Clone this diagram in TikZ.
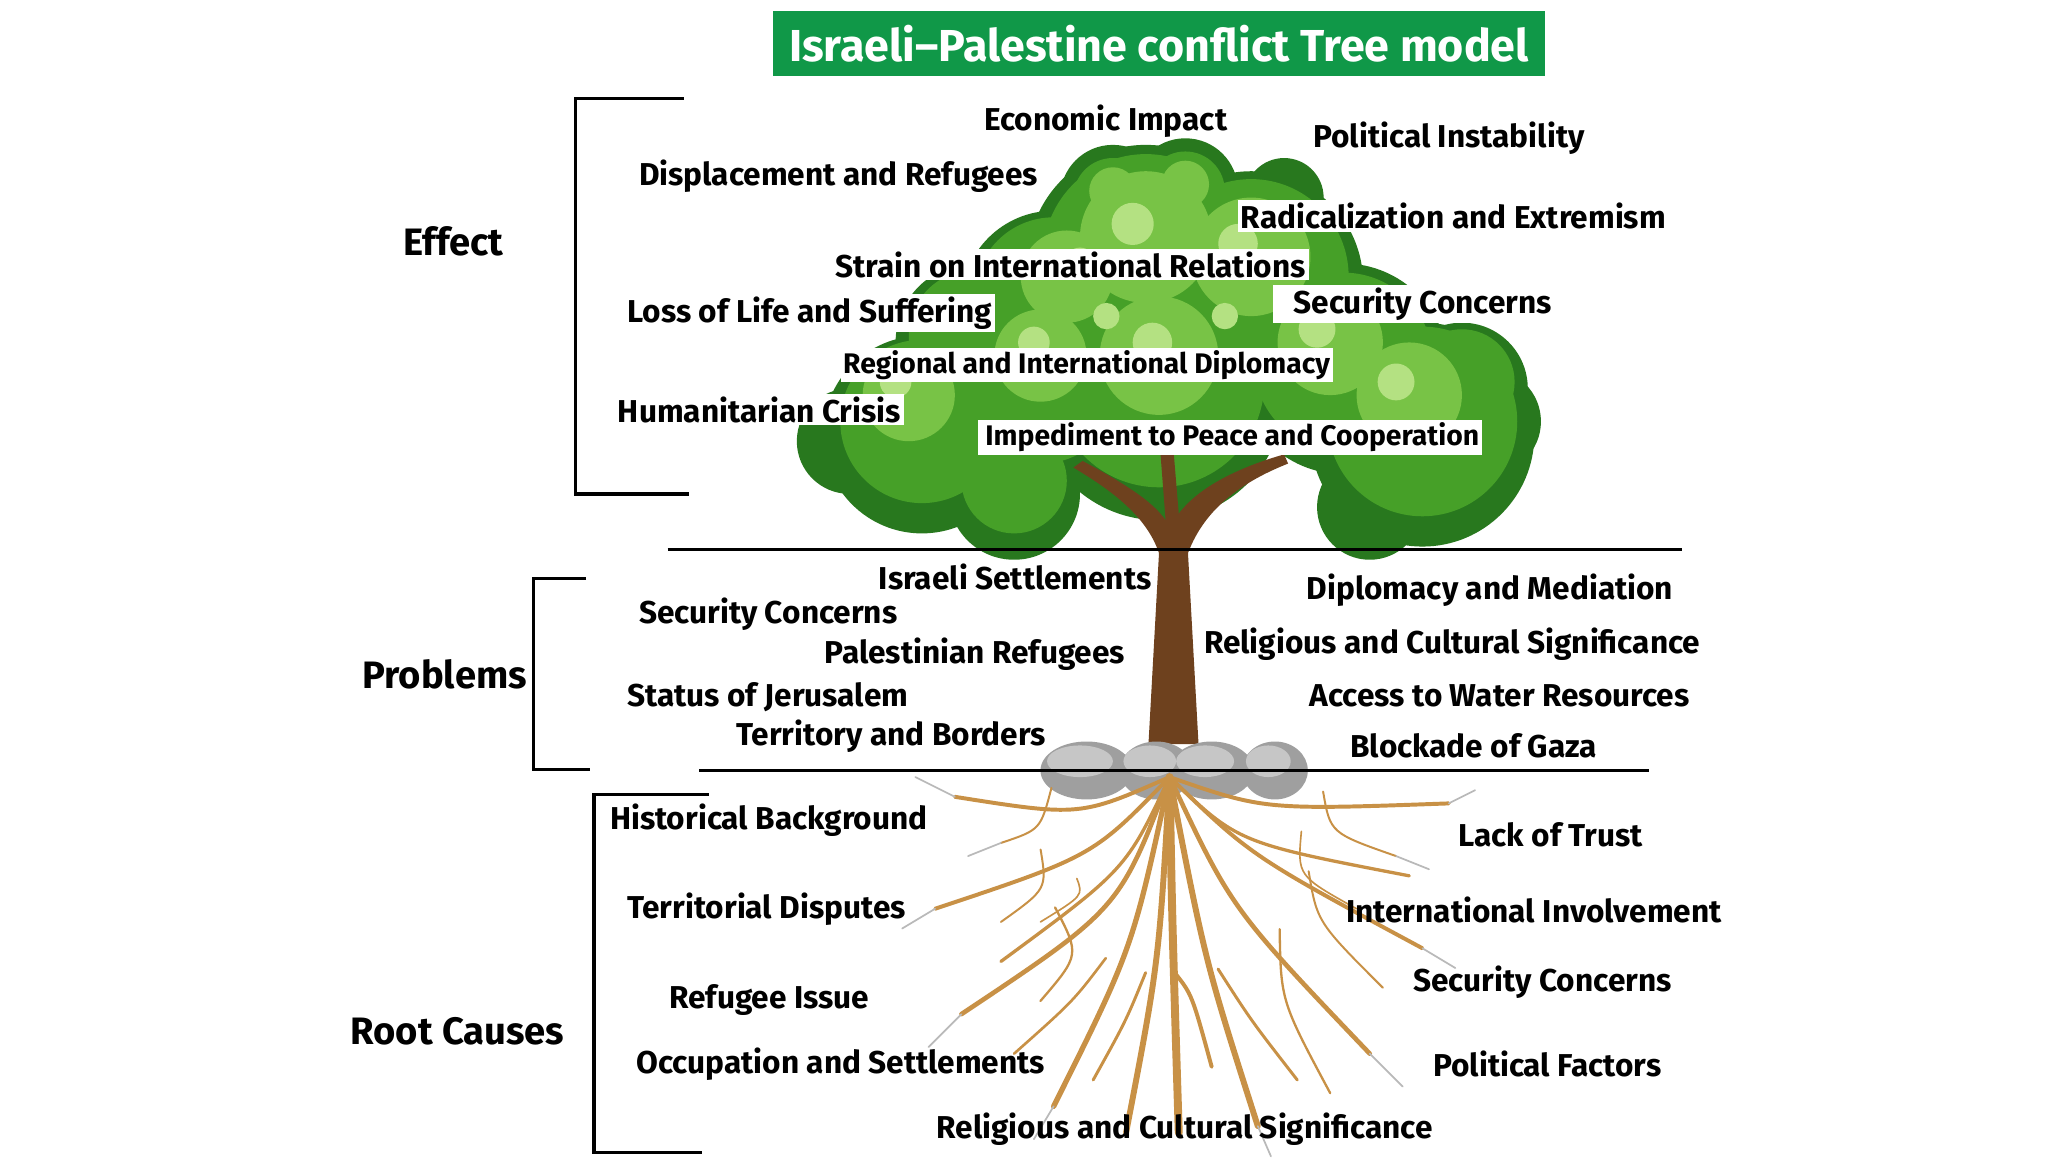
\documentclass[tikz,border=0pt]{standalone}
\usepackage{fontspec}
\setmainfont{Fira Sans}
\usetikzlibrary{calc}
\begin{document}
\begin{tikzpicture}[x=1pt,y=-1pt,
  lbl/.style={font=\fontsize{24}{26}\selectfont\bfseries,anchor=west,inner sep=2pt},
  wlbl/.style={lbl,fill=white},
  slbl/.style={wlbl,font=\fontsize{21.5}{24}\selectfont\bfseries},
  big/.style={font=\fontsize{29}{32}\selectfont\bfseries,anchor=west,inner sep=0pt},
  brk/.style={line width=2.5pt},
  root/.style={draw=rootc,line cap=round,line join=round},
  rootg/.style={draw=gray!55,line cap=round,line width=1.3pt}]
\definecolor{titleg}{RGB}{16,152,72}
\definecolor{g1}{RGB}{40,120,30}
\definecolor{g2}{RGB}{70,160,40}
\definecolor{g3}{RGB}{120,195,70}
\definecolor{g4}{RGB}{180,225,130}
\definecolor{trunkc}{RGB}{110,65,30}
\definecolor{rootc}{RGB}{200,145,70}
\useasboundingbox (0,0) rectangle (1555,880);
\fill[white] (0,0) rectangle (1555,880);
% canopy
\foreach \x/\y/\r in {700/330/75,770/375/50,645/335/40,1080/330/85,1040/385/40,1130/320/40,870/200/90,800/230/70,950/215/85,1020/280/80,880/300/95,790/300/75,900/145/40,845/150/40,975/150/30,1110/295/50,740/260/60}
  \fill[g1] (\x,\y) circle (\r);
\foreach \x/\y/\r in {700/320/62,770/365/40,1080/320/72,870/195/78,800/225/60,950/210/74,1020/275/68,880/290/80,790/290/62,900/145/30,845/150/30,1110/290/40,740/255/50}
  \fill[g2] (\x,\y) circle (\r);
\foreach \x/\y/\r in {690/300/35,1070/300/40,870/180/50,810/210/35,950/195/45,1010/260/40,880/270/45,790/270/35,900/140/18,845/145/18}
  \fill[g3] (\x,\y) circle (\r);
\foreach \x/\y/\r in {680/290/12,1060/290/14,860/170/16,820/200/12,940/185/15,1000/250/14,875/260/15,785/260/12,930/240/10,840/240/10}
  \fill[g4] (\x,\y) circle (\r);
% trunk
\fill[trunkc] (872,565) -- (880,420) .. controls (870,390) and (840,370) .. (815,355) -- (822,350) .. controls (850,365) and (875,380) .. (885,395) -- (880,330) -- (890,330) -- (895,390) .. controls (910,370) and (940,355) .. (975,345) -- (978,352) .. controls (945,365) and (915,385) .. (902,420) -- (910,565) -- cycle;
% stones
\foreach \x/\w in {825/35,878/28,920/32,968/25}
  \fill[gray!75] (\x,585) ellipse (\w pt and 22pt);
\foreach \x/\w in {825/25,878/20,920/22,968/17}
  \fill[gray!45] (\x-5,578) ellipse (\w pt and 12pt);
% roots: mid point, end point, sub-branch end, width
\foreach \mx/\my/\ex/\ey/\sx/\sy/\w in {
  820/620/725/605/760/640/3,
  830/650/710/690/760/700/3,
  850/690/730/770/790/760/3.5,
  860/720/800/840/770/800/4,
  880/730/855/860/830/820/4.5,
  890/700/895/860/920/810/6,
  915/730/955/855/985/820/4.5,
  935/690/1040/800/1010/830/3.5,
  950/650/1080/720/1050/750/3,
  960/615/1100/610/1060/650/3,
  940/640/1070/665/1030/690/2.5,
  855/660/760/730/790/700/2.5}
{
  \draw[root,line width=\w pt] (888,590) .. controls (\mx,\my) .. (\ex,\ey);
  \draw[root,line width=0.5*\w pt] ($(888,590)!0.55!(\ex,\ey)$) .. controls ($(\mx,\my)!0.5!(\sx,\sy)$) .. (\sx,\sy);
}
\foreach \ax/\ay/\bx/\by in {725/605/695/590,710/690/685/705,730/770/705/795,800/840/785/865,1040/800/1065/825,1080/720/1105/735,1100/610/1120/600,955/855/965/878,760/640/735/650,1060/650/1085/660}
  \draw[rootg] (\ax,\ay) -- (\bx,\by);
% title
\fill[titleg] (587,8) rectangle (1173,58);
\node[text=white,font=\fontsize{34}{38}\selectfont\bfseries] (title) at (880,33) {Israeli–Palestine conflict Tree model};
% lines
\draw[line width=2.5pt] (507,417) -- (1277,417);
\draw[line width=2.5pt] (531,585) -- (1252,585);
% brackets
\draw[brk] (519,75) -- (437,75) -- (437,375) -- (523,375);
\draw[brk] (445,439) -- (405,439) -- (405,584) -- (448,584);
\draw[brk] (538,603) -- (451,603) -- (451,875) -- (533,875);
\node[big] (eff) at (306,183) {Effect};
\node[big] (prob) at (275,512) {Problems};
\node[big] (root) at (266,783) {Root Causes};
% effect labels
\node[lbl] (e1) at (745,92) {Economic Impact};
\node[lbl] (e2) at (995,105) {Political Instability};
\node[lbl] (e3) at (483,134) {Displacement and Refugees};
\node[wlbl] (e4) at (940,164) {Radicalization and Extremism};
\node[wlbl] (e5) at (632,201) {Strain on International Relations};
\node[wlbl] (e6) at (474,238) {Loss of Life and Suffering};
\node[wlbl] (e7) at (966,231) {\hspace{14pt}Security Concerns};
\node[slbl] (e8) at (638,277) {Regional and International Diplomacy};
\node[wlbl] (e9) at (467,311) {Humanitarian Crisis};
\node[slbl] (e10) at (742,332) {\hspace{4pt}Impediment to Peace and Cooperation};
% problems
\node[lbl] (p1) at (665,438) {Israeli Settlements};
\node[lbl] (p2) at (483,466) {Security Concerns};
\node[lbl] (p3) at (624,497) {Palestinian Refugees};
\node[lbl] (p4) at (474,529) {Status of Jerusalem};
\node[lbl] (p5) at (557,559) {Territory and Borders};
\node[lbl] (p6) at (990,448) {Diplomacy and Mediation};
\node[lbl] (p7) at (912,489) {Religious and Cultural Significance};
\node[lbl] (p8) at (992,528) {Access to Water Resources};
\node[lbl] (p9) at (1023,566) {Blockade of Gaza};
% roots
\node[lbl] (r1) at (461,623) {Historical Background};
\node[lbl] (r2) at (1105,634) {Lack of Trust};
\node[lbl] (r3) at (474,690) {Territorial Disputes};
\node[lbl] (r4) at (1020,691) {International Involvement};
\node[lbl] (r5) at (506,759) {Refugee Issue};
\node[lbl] (r6) at (1071,746) {Security Concerns};
\node[lbl] (r7) at (481,808) {Occupation and Settlements};
\node[lbl] (r8) at (1086,808) {Political Factors};
\node[lbl] (r9) at (709,857) {Religious and Cultural Significance};
\end{tikzpicture}
\end{document}
